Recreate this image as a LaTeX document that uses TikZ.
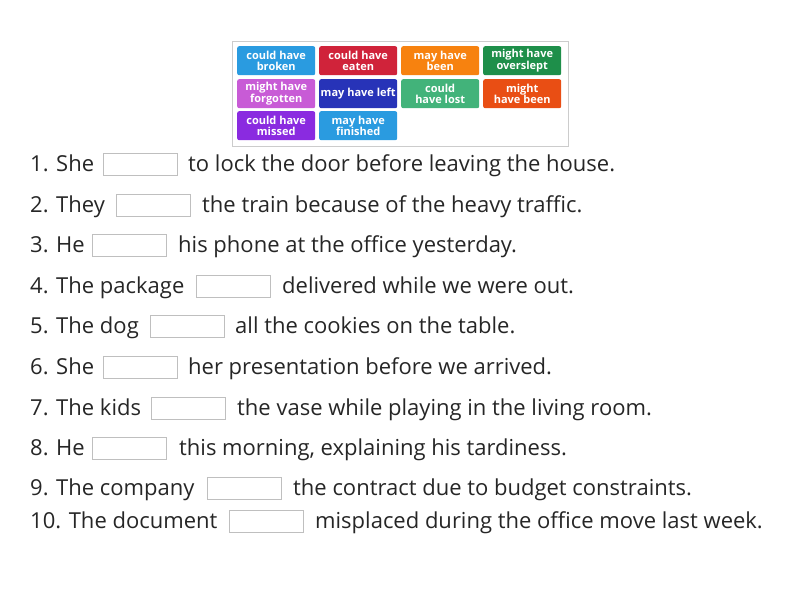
\documentclass[tikz,border=0pt]{standalone}
\usepackage{fontspec}
\setmainfont{Open Sans}
\begin{document}
\begin{tikzpicture}[x=1pt,y=-1pt,
 tile/.style={rounded corners=2pt,minimum width=78pt,minimum height=29pt,inner sep=0pt,text=white,font=\fontsize{11}{11.5}\selectfont\bfseries,align=center,anchor=north west},
 blank/.style={draw=black!25,minimum width=74pt,minimum height=22pt,inner sep=0pt,anchor=west},
 txt/.style={anchor=base west,inner sep=0pt,font=\fontsize{22}{24}\selectfont,text=black!85}]
\useasboundingbox (0,0) rectangle (800,600);
\node[draw=black!20,minimum width=336pt,minimum height=105pt,anchor=north west,inner sep=0pt] (bank) at (232,41) {};
\definecolor{c1}{HTML}{2A9BE0}\definecolor{c2}{HTML}{D0233A}\definecolor{c3}{HTML}{F7820F}\definecolor{c4}{HTML}{1E8F4A}
\definecolor{c5}{HTML}{C85BD6}\definecolor{c6}{HTML}{2733B8}\definecolor{c7}{HTML}{42B37A}\definecolor{c8}{HTML}{E94E14}
\definecolor{c9}{HTML}{8A2BE0}
\node[tile,fill=c1] (t1) at (237,46) {could have\\broken};
\node[tile,fill=c2] (t2) at (319,46) {could have\\eaten};
\node[tile,fill=c3] (t3) at (401,46) {may have\\been};
\node[tile,fill=c4] (t4) at (483,46) {might have\\overslept};
\node[tile,fill=c5] (t5) at (237,79) {might have\\forgotten};
\node[tile,fill=c6] (t6) at (319,79) {may have left};
\node[tile,fill=c7] (t7) at (401,79) {could\\have lost};
\node[tile,fill=c8] (t8) at (483,79) {might\\have been};
\node[tile,fill=c9] (t9) at (237,111) {could have\\missed};
\node[tile,fill=c1] (t10) at (319,111) {may have\\finished};
\foreach \i/\y/\a/\bx/\tx/\b in {
1/164/{1. She}/103/188/{to lock the door before leaving the house.},
2/205/{2. They}/116/202/{the train because of the heavy traffic.},
3/245/{3. He}/92/178/{his phone at the office yesterday.},
4/286/{4. The package}/196/282/{delivered while we were out.},
5/326/{5. The dog}/150/235/{all the cookies on the table.},
6/367/{6. She}/103/188/{her presentation before we arrived.},
7/408/{7. The kids}/151/237/{the vase while playing in the living room.},
8/448/{8. He}/92/179/{this morning, explaining his tardiness.},
9/488/{9. The company}/207/293/{the contract due to budget constraints.},
10/521/{10. The document}/229/315/{misplaced during the office move last week.}}{
 \node[txt] (a\i) at (30,\y+7) {\a};
 \node[blank] (b\i) at (\bx,\y) {};
 \node[txt] (c\i) at (\tx,\y+7) {\b};
}
\end{tikzpicture}
\end{document}
